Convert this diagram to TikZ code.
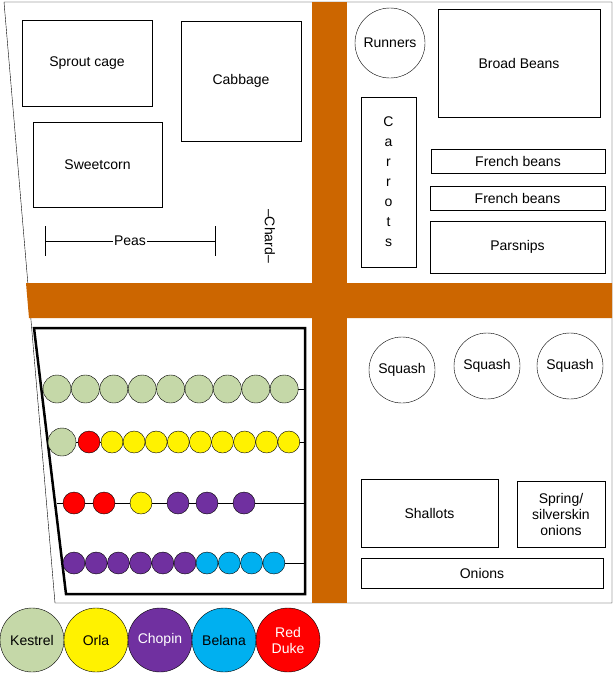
\documentclass[tikz,border=0pt]{standalone}
\usepackage{fontspec}
\setmainfont{Liberation Sans}
\begin{document}
\begin{tikzpicture}[x=1pt,y=-1pt,
  bed/.style={draw=black,fill=white,font=\fontsize{14}{16}\selectfont},
  k/.style={draw=black,fill=kes},o/.style={draw=black,fill=yellow},
  c/.style={draw=black,fill=cho},b/.style={draw=black,fill=bel},r/.style={draw=black,fill=red},
  leg/.style={circle,draw=black,minimum size=64pt,inner sep=0pt,font=\fontsize{14}{16}\selectfont}]
\definecolor{kes}{HTML}{C5D8A8}\definecolor{cho}{HTML}{7030A0}\definecolor{bel}{HTML}{00B0F0}\definecolor{path}{HTML}{CC6600}
\useasboundingbox (0,0) rectangle (613,675);
\fill[white] (0,0) rectangle (613,675);
% garden outline
\draw (4,2) -- (612,2) -- (612,603) -- (55,603) -- cycle;
\fill[path] (312,2) rectangle (347,603);
\fill[path] (26,283) -- (612,283) -- (612,318) -- (29,318) -- cycle;
% top left
\node[bed,draw,minimum width=130pt,minimum height=86pt] (sprout) at (87,63) {Sprout cage};
\node[bed,draw,minimum width=120pt,minimum height=120pt] (cab) at (241,81) {Cabbage};
\node[bed,draw,minimum width=129pt,minimum height=85pt] (corn) at (97.5,164.5) {Sweetcorn};
\coordinate (pa) at (45,241); \coordinate (pb) at (215,241);
\draw (45,226) -- (45,256) (215,226) -- (215,256);
\draw (pa) -- node[fill=white,inner sep=1pt,font=\fontsize{14}{16}\selectfont] (peas) {Peas} (pb);
\node[rotate=-90,font=\fontsize{14}{16}\selectfont] (chard) at (270,236) {--Chard--};
% top right
\node[bed,circle,draw,minimum size=70pt,inner sep=0pt] (run) at (390,43) {Runners};
\node[bed,draw,minimum width=162pt,minimum height=108pt] (broad) at (519,63) {Broad Beans};
\node[bed,draw,minimum width=55pt,minimum height=170pt,align=center,font=\fontsize{14}{20}\selectfont] (car) at (388.5,182) {C\\a\\r\\r\\o\\t\\s};
\node[bed,draw,minimum width=174pt,minimum height=24pt] (fb1) at (518,161) {French beans};
\node[bed,draw,minimum width=175pt,minimum height=24pt] (fb2) at (517.5,198) {French beans};
\node[bed,draw,minimum width=175pt,minimum height=52pt] (pars) at (517.5,247) {Parsnips};
% bottom right
\node[bed,circle,draw,minimum size=66pt,inner sep=0pt] (sq1) at (402,370) {Squash};
\node[bed,circle,draw,minimum size=66pt,inner sep=0pt] (sq2) at (487,366) {Squash};
\node[bed,circle,draw,minimum size=66pt,inner sep=0pt] (sq3) at (570,366) {Squash};
\node[bed,draw,minimum width=137pt,minimum height=68pt] (shal) at (429.5,513) {Shallots};
\node[bed,draw,minimum width=88pt,minimum height=66pt,align=center] (spr) at (561,514) {Spring/\\silverskin\\onions};
\node[bed,draw,minimum width=242pt,minimum height=30pt] (oni) at (482,573) {Onions};
% potato bed
\draw[line width=2.5pt,fill=white] (34,328) -- (305,328) -- (305,594) -- (66,594) -- cycle;
\draw (43,389) -- (305,389);
\foreach \i in {0,...,8} \draw[k] (57+\i*28.4,389) circle (14);
\draw (50,442) -- (305,442);
\draw[k] (62,442) circle (14);
\draw[r] (89,442) circle (11);
\foreach \i in {0,...,8} \draw[o] (112+\i*22.1,442) circle (11);
\draw (57,503) -- (305,503);
\draw[r] (74,503) circle (11); \draw[r] (104,503) circle (11);
\draw[o] (141,503) circle (11);
\foreach \x in {178,207,244} \draw[c] (\x,503) circle (11);
\draw (66,563) -- (305,563);
\foreach \i in {0,...,5} \draw[c] (74+\i*22.2,563) circle (11);
\foreach \i in {0,...,3} \draw[b] (207+\i*22.3,563) circle (11);
% legend
\node[leg,fill=kes] (lk) at (32,640) {Kestrel};
\node[leg,fill=yellow] (lo) at (96,640) {Orla};
\node[leg,fill=cho,text=white] (lc) at (160,640) {Chopin};
\node[leg,fill=bel] (lb) at (224,640) {Belana};
\node[leg,fill=red,text=white,align=center] (lr) at (288,640) {Red\\Duke};
\end{tikzpicture}
\end{document}
